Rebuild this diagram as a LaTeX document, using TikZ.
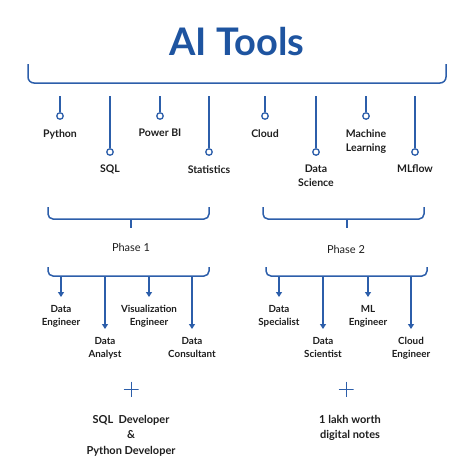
\documentclass[tikz,border=0pt]{standalone}
\usepackage{fontspec}
\setmainfont{Lato}
\usetikzlibrary{arrows.meta}
\definecolor{toolblue}{RGB}{30,84,160}
\definecolor{lineblue}{RGB}{44,94,170}
\definecolor{inkgray}{RGB}{30,30,30}
\tikzset{
  brace/.style={draw=lineblue,line width=1.5pt,rounded corners=6pt},
  pin/.style={circle,draw=lineblue,line width=1.3pt,fill=white,inner sep=0pt,minimum size=6.5pt},
  toollbl/.style={anchor=north,inner sep=0pt,align=center,text=inkgray,
    font=\bfseries\fontsize{10.5}{14}\selectfont},
  rolelbl/.style={anchor=north,inner sep=0pt,align=center,text=inkgray,
    font=\bfseries\fontsize{9.8}{13}\selectfont},
  plussign/.style={minimum size=15pt,inner sep=0pt,
    path picture={\draw[lineblue,line width=0.9pt]
      (path picture bounding box.north) -- (path picture bounding box.south)
      (path picture bounding box.west) -- (path picture bounding box.east);}},
  tip/.style={-{Triangle[width=6pt,length=5pt]},draw=lineblue,fill=lineblue,line width=1.5pt}
}
\begin{document}
\begin{tikzpicture}[x=1pt,y=-1pt]
\useasboundingbox (0,0) rectangle (474,474);
\node[text=toolblue,font=\bfseries\fontsize{38}{40}\selectfont] (title) at (237,42) {AI Tools};
% top bracket and tools
\draw[brace] (28,64) -- (28,83) -- (446,83) -- (446,64);
\foreach \x/\y/\t [count=\i] in {60/116/Python,110/152/SQL,160/116/Power BI,209/152/Statistics,
    265/116/Cloud,316/152/{Data\\Science},366/116/{Machine\\Learning},415/152/MLflow} {
  \coordinate (s\i) at (\x,96);
  \node[pin] (pin\i) at (\x,\y) {};
  \draw[lineblue,line width=1.5pt] (s\i) -- (pin\i);
  \node[toollbl] (tool\i) at (\x,\y+13) {\t};
}
% phases
\draw[brace,rounded corners=5pt] (48,207) -- (48,219) -- (209,219) -- (209,207);
\draw[brace,rounded corners=5pt] (263,207) -- (263,219) -- (424,219) -- (424,207);
\coordinate (b1) at (131,219);
\coordinate (b2) at (347,219);
\node[text=inkgray,font=\fontsize{11}{13}\selectfont] (phase1) at (131,247) {Phase 1};
\node[text=inkgray,font=\fontsize{11}{13}\selectfont] (phase2) at (346,249) {Phase 2};
\draw[lineblue,line width=1.5pt] (b1) -- ++(0,9);
\draw[lineblue,line width=1.5pt] (b2) -- ++(0,9);
\draw[brace,rounded corners=5pt] (48,267) -- (48,276) -- (209,276) -- (209,267);
\draw[brace,rounded corners=5pt] (266,267) -- (266,276) -- (427,276) -- (427,267);
% roles
\foreach \x/\y/\t [count=\i] in {61/297/{Data\\Engineer},105/329/{Data\\Analyst},
    149/297/{Visualization\\Engineer},192/329/{Data\\Consultant},279/297/{Data\\Specialist},
    323/329/{Data\\Scientist},368/297/{ML\\Engineer},411/329/{Cloud\\Engineer}} {
  \coordinate (r\i) at (\x,276);
  \node[rolelbl] (role\i) at (\x,\y+8) {\t};
  \draw[tip,shorten >=8pt] (r\i) -- (role\i.north);
}
% extras
\node[plussign] (plus1) at (131,389) {};
\node[plussign] (plus2) at (346,389) {};
\node[anchor=north,align=center,text=inkgray,font=\bfseries\fontsize{11}{15.5}\selectfont]
  (extra1) at (131,411.5) {SQL\ \ Developer\\\&\\Python Developer};
\node[anchor=north,align=center,text=inkgray,font=\bfseries\fontsize{11}{15.5}\selectfont]
  (extra2) at (350,411.5) {1 lakh worth\\digital notes};
\end{tikzpicture}
\end{document}
